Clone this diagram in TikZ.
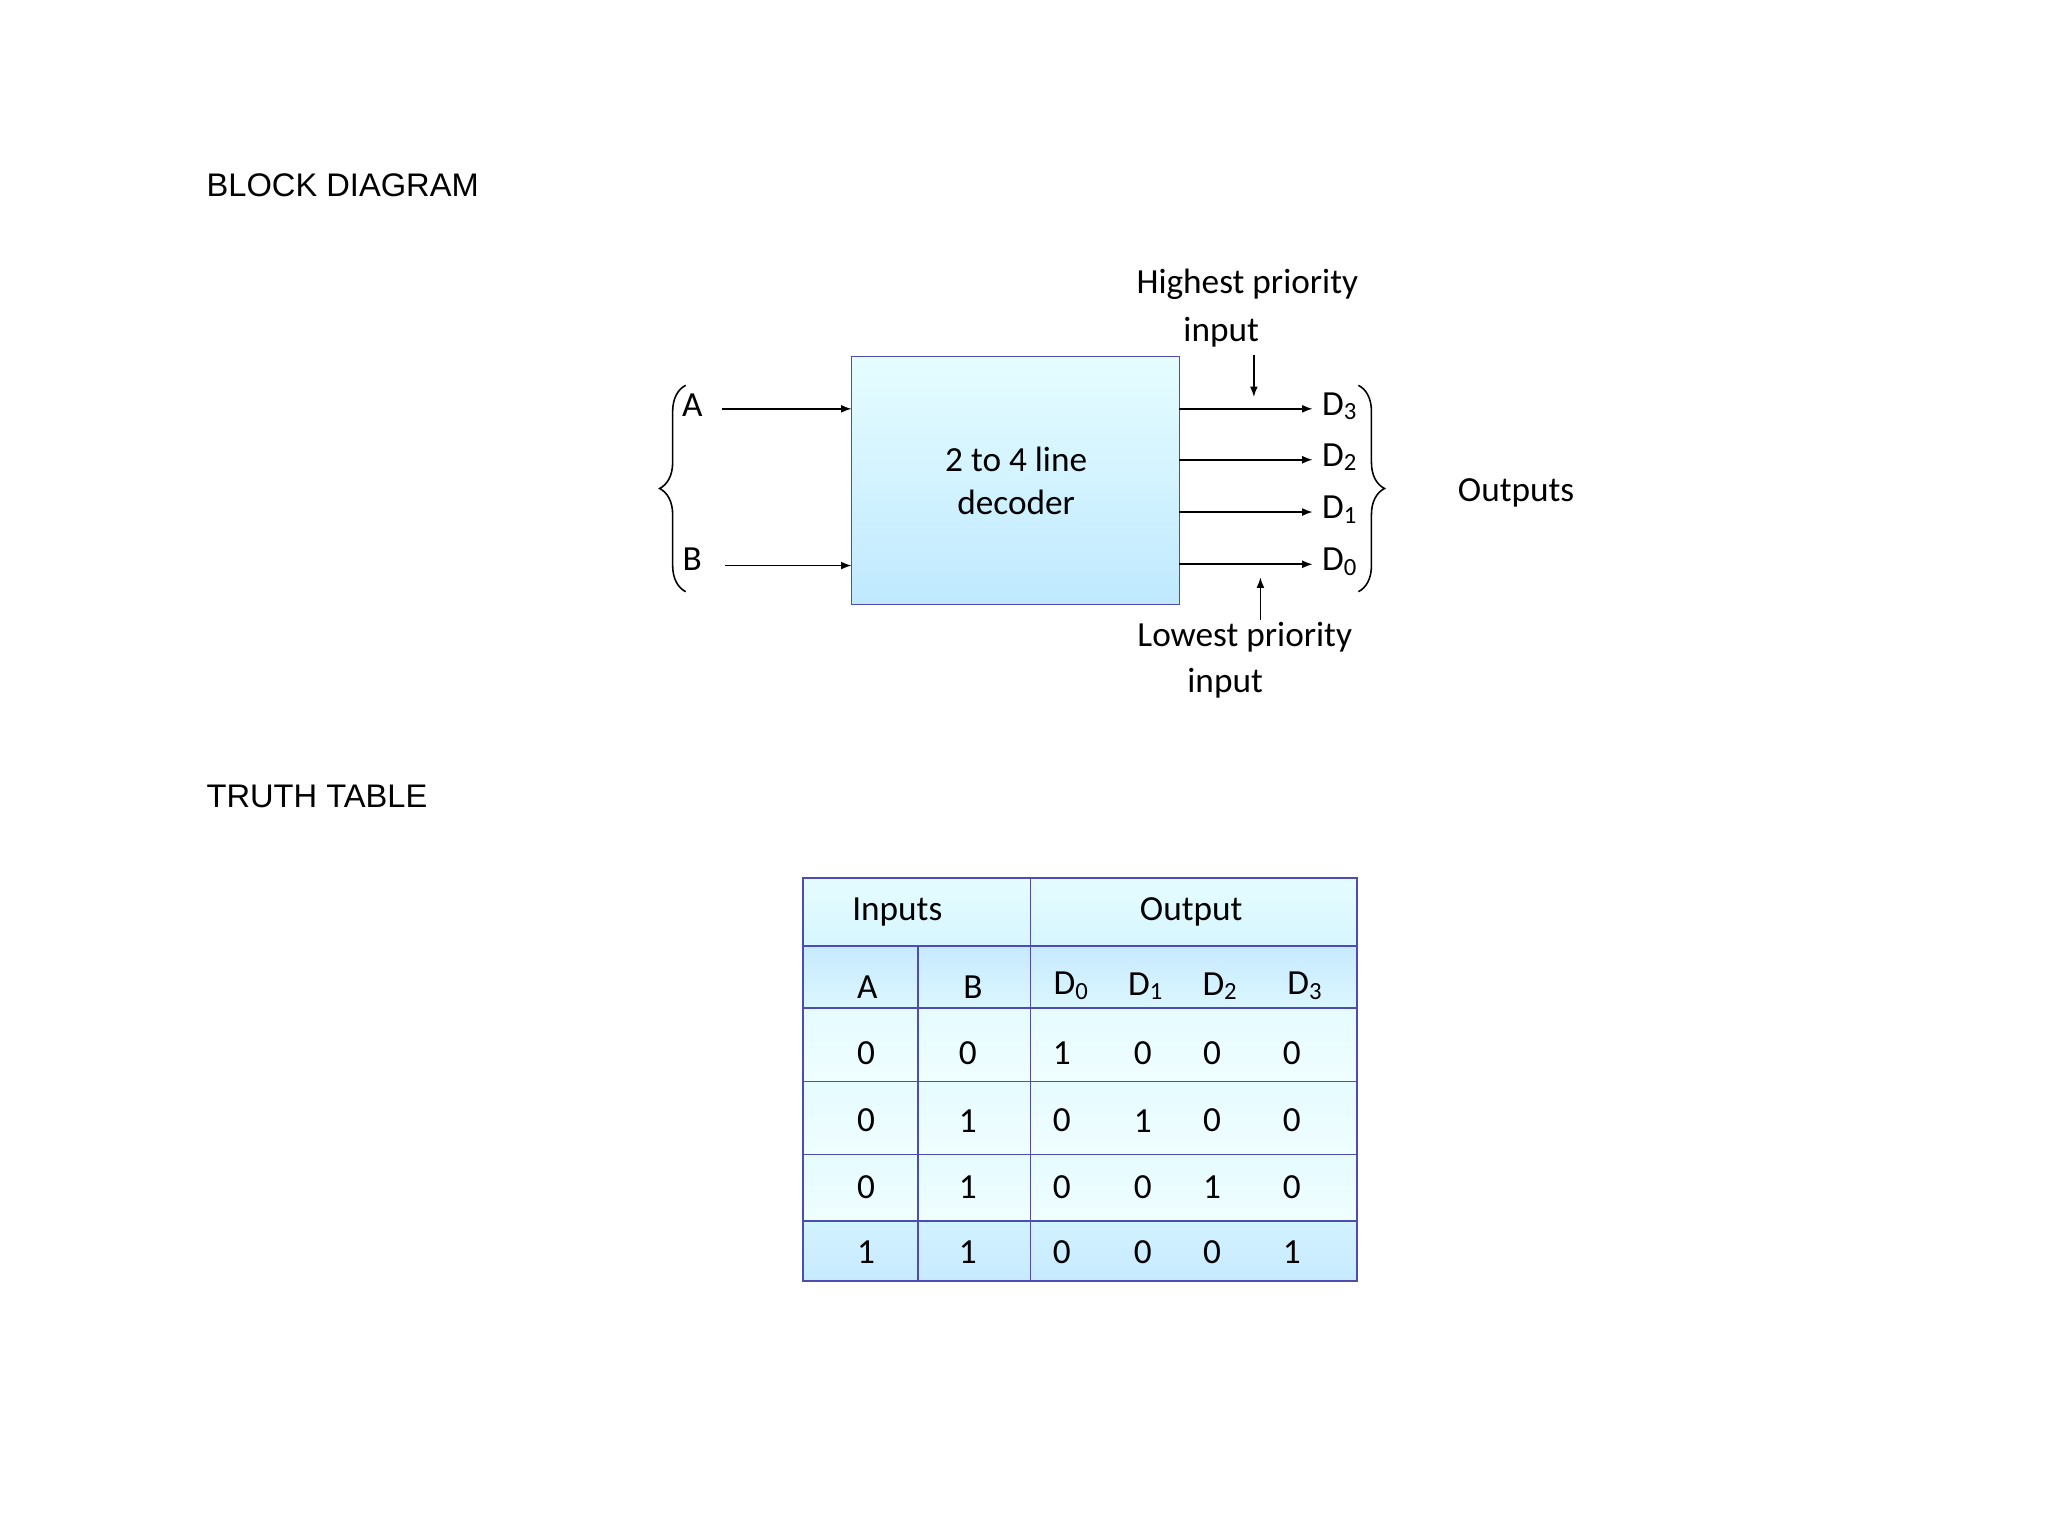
\documentclass[tikz,border=0pt]{standalone}
\usepackage{fontspec}
\setmainfont{Carlito}
\newfontfamily\hd{Liberation Sans}
\usetikzlibrary{decorations.pathreplacing,arrows.meta}
\begin{document}
\begin{tikzpicture}[x=1pt,y=-1pt,
  lbl/.style={font=\fontsize{27}{31}\selectfont,inner sep=0pt},
  cell/.style={font=\fontsize{27}{31}\selectfont,inner sep=0pt},
  arr/.style={-{Latex[length=8pt,width=6pt]},line width=1.2pt},
  brc/.style={decorate,decoration={brace,amplitude=20pt},line width=1.2pt}]
\useasboundingbox (0,0) rectangle (1568,1176);
\fill[white] (0,0) rectangle (1568,1176);
\node[anchor=west,font=\hd\fontsize{25}{29}\selectfont,inner sep=0pt] (t1) at (158,142) {BLOCK DIAGRAM};
\node[anchor=west,font=\hd\fontsize{25}{29}\selectfont,inner sep=0pt] (t2) at (158,610) {TRUTH TABLE};
% decoder box
\shade[top color=blue!8!cyan!10!white,bottom color=blue!35!cyan!25!white,draw=blue!40!gray,line width=1pt] (652,273) rectangle (903,463);
\node[lbl,align=center] (dec) at (778,368) {2 to 4 line\\[2pt]decoder};
\coordinate (boxA) at (652,313);
\coordinate (boxB) at (652,433);
\node[lbl] (A) at (530,310) {A};
\node[lbl] (B) at (530,428) {B};
\draw[arr] (553,313) -- (boxA);
\draw[arr] (555,433) -- (boxB);
\draw[brc] (525,453) -- (525,295);
\foreach \y/\s [count=\i] in {313/3,352/2,392/1,432/0}{
  \coordinate (o\i) at (903,\y);
  \node[lbl,anchor=west] (d\i) at (1012,\y-2) {D\textsubscript{\s}};
  \draw[arr] (o\i) -- (1005,\y);
}
\draw[brc] (1040,295) -- (1040,453);
\node[lbl,anchor=west] (out) at (1116,377) {Outputs};
\node[lbl] (h1) at (955,218) {Highest priority};
\node[lbl] (h2) at (935,254) {input};
\coordinate (ha) at (960,272);
\coordinate (hb) at (960,304);
\draw[arr] (ha) -- (hb);
\node[lbl] (l1) at (953,488) {Lowest priority};
\node[lbl] (l2) at (938,523) {input};
\coordinate (la) at (965,475);
\coordinate (lb) at (965,442);
\draw[arr] (la) -- (lb);
% table
\shade[top color=blue!10!cyan!10!white,bottom color=blue!22!cyan!16!white] (615,672) rectangle (1039,724);
\shade[top color=blue!38!cyan!22!white,bottom color=blue!22!cyan!14!white] (615,724) rectangle (1039,772);
\foreach \a/\b in {772/828,828/884,884/935}{
  \shade[top color=blue!14!cyan!10!white,bottom color=blue!8!cyan!6!white] (615,\a) rectangle (1039,\b);}
\shade[top color=blue!28!cyan!18!white,bottom color=blue!38!cyan!22!white] (615,935) rectangle (1039,981);
\draw[blue!40!gray,line width=1.3pt] (615,672) rectangle (1039,981);
\foreach \y in {724,772,828,884,935} \draw[blue!40!gray,line width=1.3pt] (615,\y) -- (1039,\y);
\draw[blue!40!gray,line width=1.3pt] (789,672) -- (789,981);
\draw[blue!40!gray,line width=1.3pt] (703,724) -- (703,981);
\node[cell] (hi) at (687,698) {Inputs};
\node[cell] (ho) at (912,698) {Output};
\node[cell] (cA) at (664,756) {A};
\node[cell] (cB) at (745,756) {B};
\foreach \x/\s in {820/0,877/1,934/2,999/3} \node[cell] at (\x,755) {D\textsubscript{\s}};
\foreach \r/\y in {{0,0,1,0,0,0}/806,{0,1,0,1,0,0}/858,{0,1,0,0,1,0}/909,{1,1,0,0,0,1}/959}{
  \foreach \v [count=\j] in \r {
    \ifcase\j\or\def\xx{663}\or\def\xx{741}\or\def\xx{813}\or\def\xx{875}\or\def\xx{928}\or\def\xx{989}\fi
    \node[cell] at (\xx,\y) {\v};
  }
}
\end{tikzpicture}
\end{document}
